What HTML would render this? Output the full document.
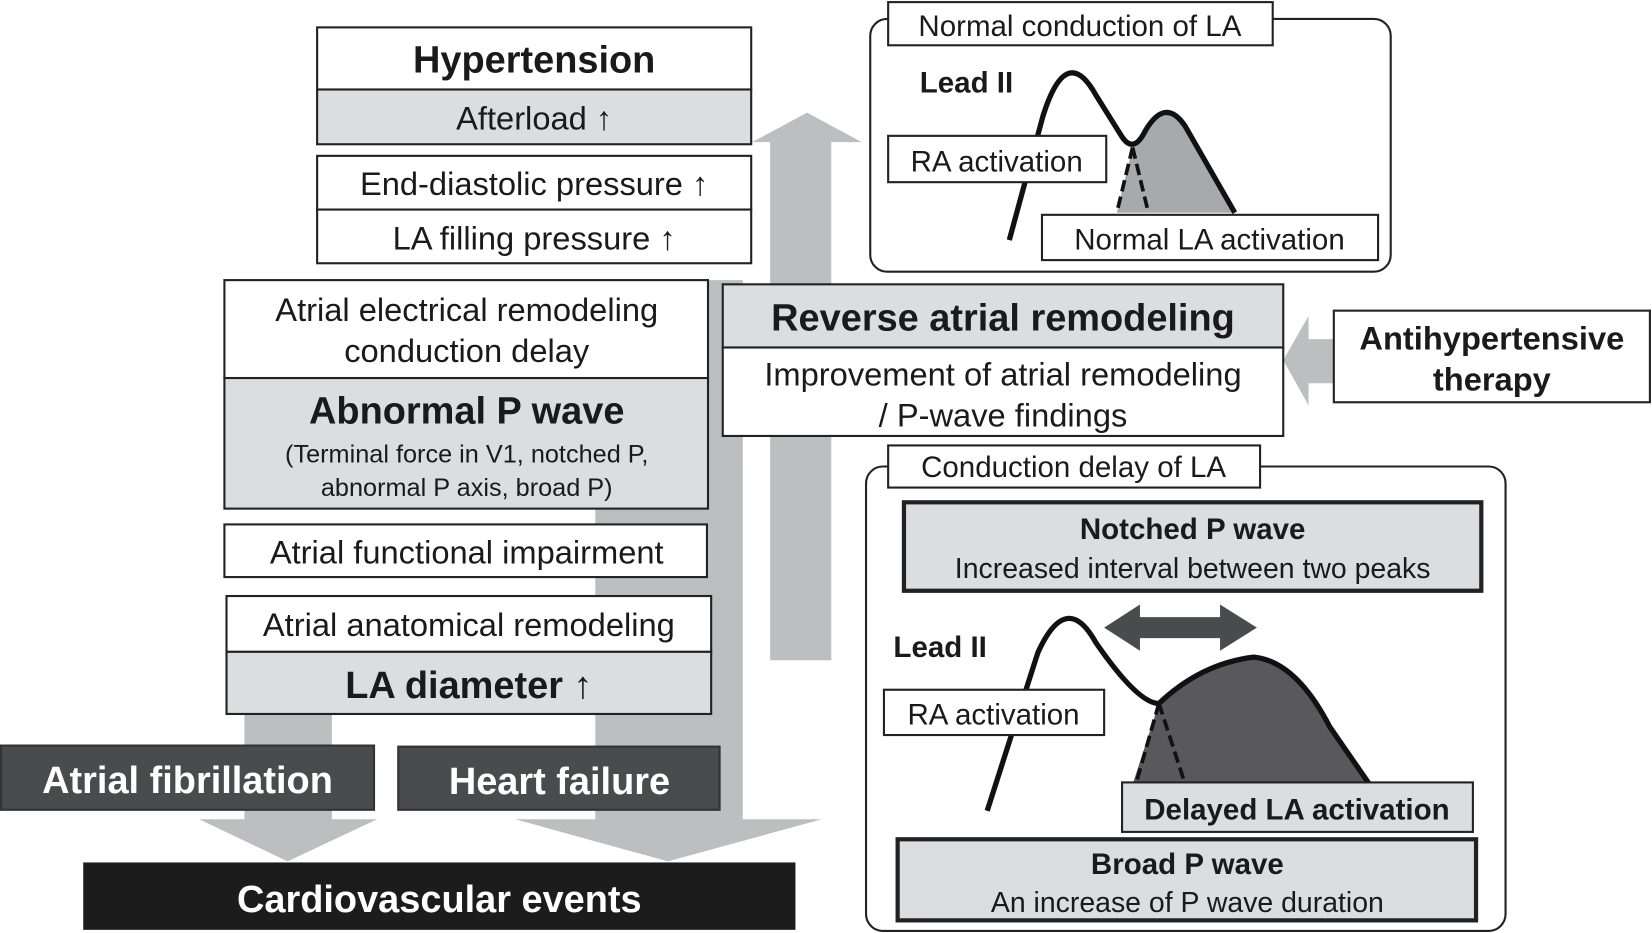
<!DOCTYPE html>
<html><head><meta charset="utf-8"><style>
html,body{margin:0;padding:0;background:#fff;}
svg{display:block;}
text{font-family:"Liberation Sans",sans-serif;fill:#1a1a1a;}
.b{font-weight:bold;}
</style></head><body>
<svg width="1652" height="933" viewBox="0 0 1568 886" preserveAspectRatio="none" xmlns="http://www.w3.org/2000/svg">
<g fill="#bdbec0">
<polygon points="565,266 705,266 705,778 780,778 634,818 489,778 565,778"/>
<polygon points="232,678 315,678 315,778 358,778 273,818 189,778 232,778"/>
<polygon points="731,627 789,627 789,135 818,135 766,107 714,135 731,135"/>
<polygon points="1266,322 1242,322 1242,300 1218,342 1242,385 1242,364 1266,364"/>
</g>
<g stroke="#222" stroke-width="2">
<rect x="301" y="26" width="412" height="59" fill="#fff"/>
<rect x="301" y="85" width="412" height="52" fill="#dcdddf"/>
<rect x="301" y="148" width="412" height="51" fill="#fff"/>
<rect x="301" y="199" width="412" height="51" fill="#fff"/>
<rect x="213" y="266" width="459" height="93" fill="#fff"/>
<rect x="213" y="359" width="459" height="124" fill="#dcdddf"/>
<rect x="213" y="498" width="458" height="50" fill="#fff"/>
<rect x="215" y="566" width="460" height="53" fill="#fff"/>
<rect x="215" y="619" width="460" height="59" fill="#dcdddf"/>
<rect x="1" y="708" width="354" height="61" fill="#4a4b4d" stroke="#333"/>
<rect x="378" y="709" width="305" height="60" fill="#4a4b4d" stroke="#333"/>
<rect x="80" y="820" width="674" height="62" fill="#1c1c1c" stroke="#1c1c1c"/>
<rect x="686" y="270" width="532" height="60" fill="#dcdddf"/>
<rect x="686" y="330" width="532" height="84" fill="#fff"/>
<rect x="1266" y="295" width="300" height="87" fill="#fff"/>
<rect x="826" y="18" width="494" height="240" rx="16" fill="#fff"/>
<rect x="822" y="443" width="607" height="441" rx="16" fill="#fff"/>
</g>
<path d="M1060,202 L1075,140 Q1085,120 1103,105 Q1120,100 1135,135 L1172,202 Z" fill="#a8a9ab"/>
<path d="M958,228 L990,110 Q1012,40 1040,90 L1065,130 Q1075,145 1085,128 Q1105,90 1125,120 L1172,202" fill="none" stroke="#111" stroke-width="5"/>
<path d="M1075,140 L1060,202 M1075,140 L1090,202" stroke="#111" stroke-width="3.5" stroke-dasharray="11,5" fill="none"/>
<path d="M1075,745 L1100,668 Q1140,630 1190,624 Q1230,628 1262,690 L1300,745 Z" fill="#59595b"/>
<path d="M937,770 L985,620 Q1012,560 1040,610 Q1080,668 1100,668 Q1140,630 1190,624 Q1230,628 1262,690 L1300,745" fill="none" stroke="#111" stroke-width="5"/>
<path d="M1100,668 L1078,745 M1100,668 L1125,745" stroke="#111" stroke-width="3.5" stroke-dasharray="11,5" fill="none"/>
<polygon points="1048,596 1082,574 1082,586 1158,586 1158,574 1193,596 1158,618 1158,606 1082,606 1082,618" fill="#4a4b4d"/>
<g stroke="#222" stroke-width="2">
<rect x="843" y="2" width="365" height="41" fill="#fff"/>
<rect x="843" y="129" width="207" height="44" fill="#fff"/>
<rect x="989" y="204" width="319" height="43" fill="#fff"/>
<rect x="843" y="423" width="353" height="40" fill="#fff"/>
<rect x="858" y="477" width="548" height="84" fill="#dcdddf" stroke-width="4"/>
<rect x="839" y="655" width="209" height="43" fill="#fff"/>
<rect x="1065" y="743" width="333" height="47" fill="#dcdddf"/>
<rect x="852" y="797" width="549" height="77" fill="#dcdddf" stroke-width="4"/>
</g>
<g text-anchor="middle">
<text x="507" y="69" font-size="36" class="b">Hypertension</text>
<text x="507" y="123" font-size="31">Afterload ↑</text>
<text x="507" y="185" font-size="31">End-diastolic pressure ↑</text>
<text x="507" y="237" font-size="31">LA filling pressure ↑</text>
<text x="443" y="305" font-size="31">Atrial electrical remodeling</text>
<text x="443" y="344" font-size="31">conduction delay</text>
<text x="443" y="402" font-size="36" class="b">Abnormal P wave</text>
<text x="443" y="439" font-size="24">(Terminal force in V1, notched P,</text>
<text x="443" y="471" font-size="24">abnormal P axis, broad P)</text>
<text x="443" y="535" font-size="31">Atrial functional impairment</text>
<text x="445" y="604" font-size="31">Atrial anatomical remodeling</text>
<text x="445" y="663" font-size="36" class="b">LA diameter ↑</text>
<text x="178" y="753" font-size="36" class="b" style="fill:#fff">Atrial fibrillation</text>
<text x="531" y="754" font-size="36" class="b" style="fill:#fff">Heart failure</text>
<text x="417" y="866" font-size="36" class="b" style="fill:#fff">Cardiovascular events</text>
<text x="952" y="314" font-size="36" class="b">Reverse atrial remodeling</text>
<text x="952" y="366" font-size="31">Improvement of atrial remodeling</text>
<text x="952" y="405" font-size="31">/ P-wave findings</text>
<text x="1416" y="332" font-size="31" class="b">Antihypertensive</text>
<text x="1416" y="371" font-size="31" class="b">therapy</text>
<text x="1025" y="34" font-size="28">Normal conduction of LA</text>
<text x="946" y="163" font-size="28">RA activation</text>
<text x="1148" y="237" font-size="28">Normal LA activation</text>
<text x="1019" y="453" font-size="28">Conduction delay of LA</text>
<text x="1132" y="512" font-size="28" class="b">Notched P wave</text>
<text x="1132" y="549" font-size="27">Increased interval between two peaks</text>
<text x="943" y="688" font-size="28">RA activation</text>
<text x="1231" y="778" font-size="28" class="b">Delayed LA activation</text>
<text x="1127" y="830" font-size="28" class="b">Broad P wave</text>
<text x="1127" y="866" font-size="27">An increase of P wave duration</text>
</g>
<text x="873" y="88" font-size="28" class="b">Lead II</text>
<text x="848" y="624" font-size="28" class="b">Lead II</text>
</svg>
</body></html>
